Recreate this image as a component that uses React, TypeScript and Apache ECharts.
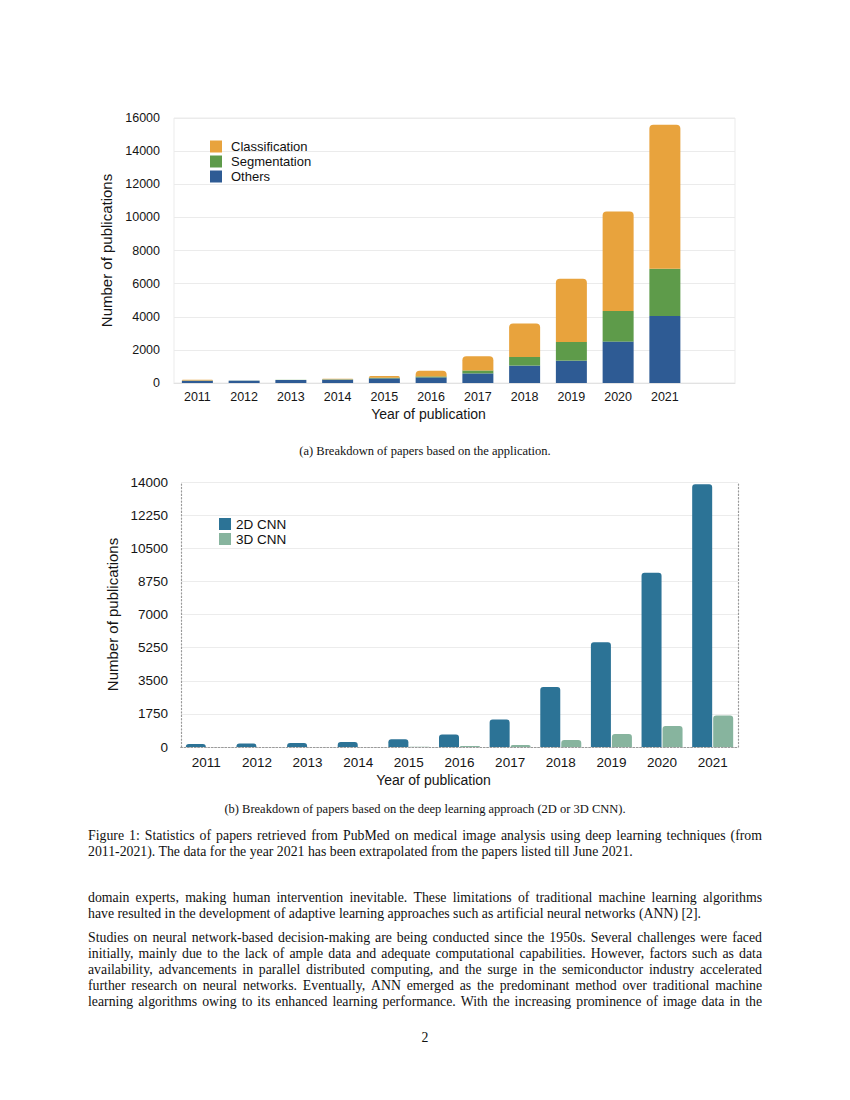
import React, { useEffect, useRef } from "react";
import * as echarts from "echarts";

// ---------- data ----------
const years = ["2011", "2012", "2013", "2014", "2015", "2016", "2017", "2018", "2019", "2020", "2021"];
const slotsA = [...years, ""];
const others = [140, 140, 180, 200, 280, 340, 580, 1050, 1350, 2500, 4050];
const segmentation = [10, 5, 10, 20, 40, 60, 180, 520, 1130, 1850, 2850];
const classification = [50, 5, 10, 40, 100, 340, 860, 2030, 3820, 6000, 8700];
const cnn2d = [160, 190, 210, 260, 410, 655, 1450, 3165, 5530, 9200, 13880];
const cnn3d = [3, 3, 4, 6, 10, 55, 105, 365, 685, 1105, 1665];
const yTicksA = [0, 2000, 4000, 6000, 8000, 10000, 12000, 14000, 16000];
const yTicksB = [0, 1750, 3500, 5250, 7000, 8750, 10500, 12250, 14000];

// ---------- text ----------
const captionA = "(a) Breakdown of papers based on the application.";
const captionB = "(b) Breakdown of papers based on the deep learning approach (2D or 3D CNN).";
const figureLines = [
  "Figure 1: Statistics of papers retrieved from PubMed on medical image analysis using deep learning techniques (from",
  "2011-2021). The data for the year 2021 has been extrapolated from the papers listed till June 2021.",
];
const para1Lines = [
  "domain experts, making human intervention inevitable. These limitations of traditional machine learning algorithms",
  "have resulted in the development of adaptive learning approaches such as artificial neural networks (ANN) [2].",
];
const para2Lines = [
  "Studies on neural network-based decision-making are being conducted since the 1950s. Several challenges were faced",
  "initially, mainly due to the lack of ample data and adequate computational capabilities. However, factors such as data",
  "availability, advancements in parallel distributed computing, and the surge in the semiconductor industry accelerated",
  "further research on neural networks. Eventually, ANN emerged as the predominant method over traditional machine",
  "learning algorithms owing to its enhanced learning performance. With the increasing prominence of image data in the",
];
const pageNumber = "2";

const SANS = "'Liberation Sans', Arial, Helvetica, sans-serif";
const SERIF = "'Liberation Serif', 'Times New Roman', serif";
const TEXT_LEFT = 88;
const TEXT_RIGHT = 762;
const BODY_SIZE = 13.8;
const CAP_SIZE = 12.5;

const C_CLASS = "#E8A33D";
const C_SEG = "#5E9B4A";
const C_OTH = "#2E5B94";
const C_2D = "#2C7396";
const C_3D = "#87B49E";

function textEl(text: string, x: number, y: number, size: number, align = "left") {
  return {
    type: "text",
    x,
    y,
    silent: true,
    style: {
      text,
      fill: "#111",
      fontSize: size,
      fontFamily: SERIF,
      textAlign: align,
      textVerticalAlign: "middle",
      verticalAlign: "middle",
    },
  };
}

function lineEls(line: string, y: number, size: number, justify: boolean) {
  if (!justify) return [textEl(line, TEXT_LEFT, y, size)];
  const ctx = document.createElement("canvas").getContext("2d")!;
  ctx.font = `${size}px "Liberation Serif"`;
  const words = line.split(" ");
  const widths = words.map((w) => ctx.measureText(w).width);
  const total = widths.reduce((a, b) => a + b, 0);
  const gap = (TEXT_RIGHT - TEXT_LEFT - total) / (words.length - 1);
  let x = TEXT_LEFT;
  return words.map((w, i) => {
    const el = textEl(w, x, y, size);
    x += widths[i] + gap;
    return el;
  });
}

function buildOption() {
  const graphics: any[] = [];
  graphics.push(textEl(captionA, 425, 451, CAP_SIZE, "center"));
  graphics.push(textEl(captionB, 425, 809, CAP_SIZE, "center"));
  graphics.push(...lineEls(figureLines[0], 835, BODY_SIZE, true));
  graphics.push(...lineEls(figureLines[1], 851, BODY_SIZE, false));
  graphics.push(...lineEls(para1Lines[0], 897, BODY_SIZE, true));
  graphics.push(...lineEls(para1Lines[1], 913, BODY_SIZE, false));
  const p2y = [937, 953, 969, 985, 1001];
  para2Lines.forEach((l, i) => graphics.push(...lineEls(l, p2y[i], BODY_SIZE, true)));
  graphics.push(textEl(pageNumber, 425, 1037, BODY_SIZE, "center"));

  const axisText = { color: "#151515", fontFamily: SANS };
  const dotted = { color: "#9a9a9a", type: [1.2, 2.2], width: 1.2 };
  const plain = (v: number) => String(v);

  return {
    animation: false,
    backgroundColor: "#ffffff",
    textStyle: { fontFamily: SANS },
    graphic: { elements: graphics },
    legend: [
      {
        data: ["Classification", "Segmentation", "Others"],
        orient: "vertical",
        left: 210,
        top: 140,
        padding: 0,
        itemWidth: 12,
        itemHeight: 12,
        itemGap: 2,
        icon: "rect",
        selectedMode: false,
        textStyle: { fontSize: 13, fontFamily: SANS, color: "#111", padding: [0, 0, 0, 4] },
      },
      {
        data: ["2D CNN", "3D CNN"],
        orient: "vertical",
        left: 219,
        top: 517,
        padding: 0,
        itemWidth: 12,
        itemHeight: 12,
        itemGap: 1,
        icon: "rect",
        selectedMode: false,
        textStyle: { fontSize: 13.5, fontFamily: SANS, color: "#111", padding: [0, 0, 0, 0] },
      },
    ],
    grid: [
      { left: 174, top: 118, width: 561, height: 265, show: true, borderColor: "#ebebeb", borderWidth: 1 },
      { left: 181, top: 482, width: 557, height: 265, show: false },
    ],
    xAxis: [
      {
        gridIndex: 0,
        type: "category",
        data: slotsA,
        axisLine: { lineStyle: { color: "#e2e2e2" } },
        axisTick: { show: false },
        axisLabel: { ...axisText, fontSize: 12.5, margin: 7 },
        name: "Year of publication",
        nameLocation: "middle",
        nameGap: 24,
        nameTextStyle: { ...axisText, fontSize: 14, padding: [0, 52, 0, 0] },
      },
      {
        gridIndex: 1,
        type: "category",
        data: years,
        axisLine: { show: true, lineStyle: dotted },
        axisTick: { show: false },
        axisLabel: { ...axisText, fontSize: 13.5, margin: 8 },
        name: "Year of publication",
        nameLocation: "middle",
        nameGap: 26,
        nameTextStyle: { ...axisText, fontSize: 14, padding: [0, 52, 0, 0] },
      },
      {
        gridIndex: 1,
        type: "category",
        data: years,
        position: "top",
        axisLine: { show: true, lineStyle: dotted },
        axisTick: { show: false },
        axisLabel: { show: false },
        splitLine: { show: false },
      },
    ],
    yAxis: [
      {
        gridIndex: 0,
        type: "value",
        min: yTicksA[0],
        max: yTicksA[yTicksA.length - 1],
        interval: yTicksA[1] - yTicksA[0],
        axisLine: { show: false },
        axisTick: { show: false },
        axisLabel: { ...axisText, fontSize: 12.5, margin: 14, formatter: plain },
        splitLine: { lineStyle: { color: "#ebebeb" } },
        name: "Number of publications",
        nameLocation: "middle",
        nameGap: 41,
        nameTextStyle: { ...axisText, fontSize: 15 },
      },
      {
        gridIndex: 1,
        type: "value",
        min: yTicksB[0],
        max: yTicksB[yTicksB.length - 1],
        interval: yTicksB[1] - yTicksB[0],
        axisLine: { show: true, lineStyle: dotted },
        axisTick: { show: false },
        axisLabel: { ...axisText, fontSize: 13.5, margin: 13, formatter: plain },
        splitLine: { lineStyle: { color: "#ececec" } },
        name: "Number of publications",
        nameLocation: "middle",
        nameGap: 58,
        nameTextStyle: { ...axisText, fontSize: 15 },
      },
      {
        gridIndex: 1,
        type: "value",
        position: "right",
        min: yTicksB[0],
        max: yTicksB[yTicksB.length - 1],
        interval: yTicksB[1] - yTicksB[0],
        axisLine: { show: true, lineStyle: dotted },
        axisTick: { show: false },
        axisLabel: { show: false },
        splitLine: { show: false },
      },
    ],
    series: [
      {
        name: "Others",
        type: "bar",
        stack: "a",
        xAxisIndex: 0,
        yAxisIndex: 0,
        barWidth: 31,
        data: others,
        itemStyle: { color: C_OTH },
      },
      {
        name: "Segmentation",
        type: "bar",
        stack: "a",
        xAxisIndex: 0,
        yAxisIndex: 0,
        barWidth: 31,
        data: segmentation,
        itemStyle: { color: C_SEG },
      },
      {
        name: "Classification",
        type: "bar",
        stack: "a",
        xAxisIndex: 0,
        yAxisIndex: 0,
        barWidth: 31,
        data: classification,
        itemStyle: { color: C_CLASS, borderRadius: [4, 4, 0, 0] },
      },
      {
        name: "2D CNN",
        type: "bar",
        xAxisIndex: 1,
        yAxisIndex: 1,
        barWidth: 20,
        barGap: "5%",
        data: cnn2d,
        itemStyle: { color: C_2D, borderRadius: [3, 3, 0, 0] },
      },
      {
        name: "3D CNN",
        type: "bar",
        xAxisIndex: 1,
        yAxisIndex: 1,
        barWidth: 20,
        barGap: "5%",
        data: cnn3d,
        itemStyle: { color: C_3D, borderRadius: [3, 3, 0, 0] },
      },
    ],
  };
}

export default function App() {
  const ref = useRef<HTMLDivElement>(null);
  useEffect(() => {
    const chart = echarts.init(ref.current!, null, { renderer: "svg" });
    chart.setOption(buildOption() as any);
    return () => chart.dispose();
  }, []);
  return (
    <div
      ref={ref}
      style={{ position: "absolute", left: 0, top: 0, width: 850, height: 1100, background: "#fff" }}
    />
  );
}
